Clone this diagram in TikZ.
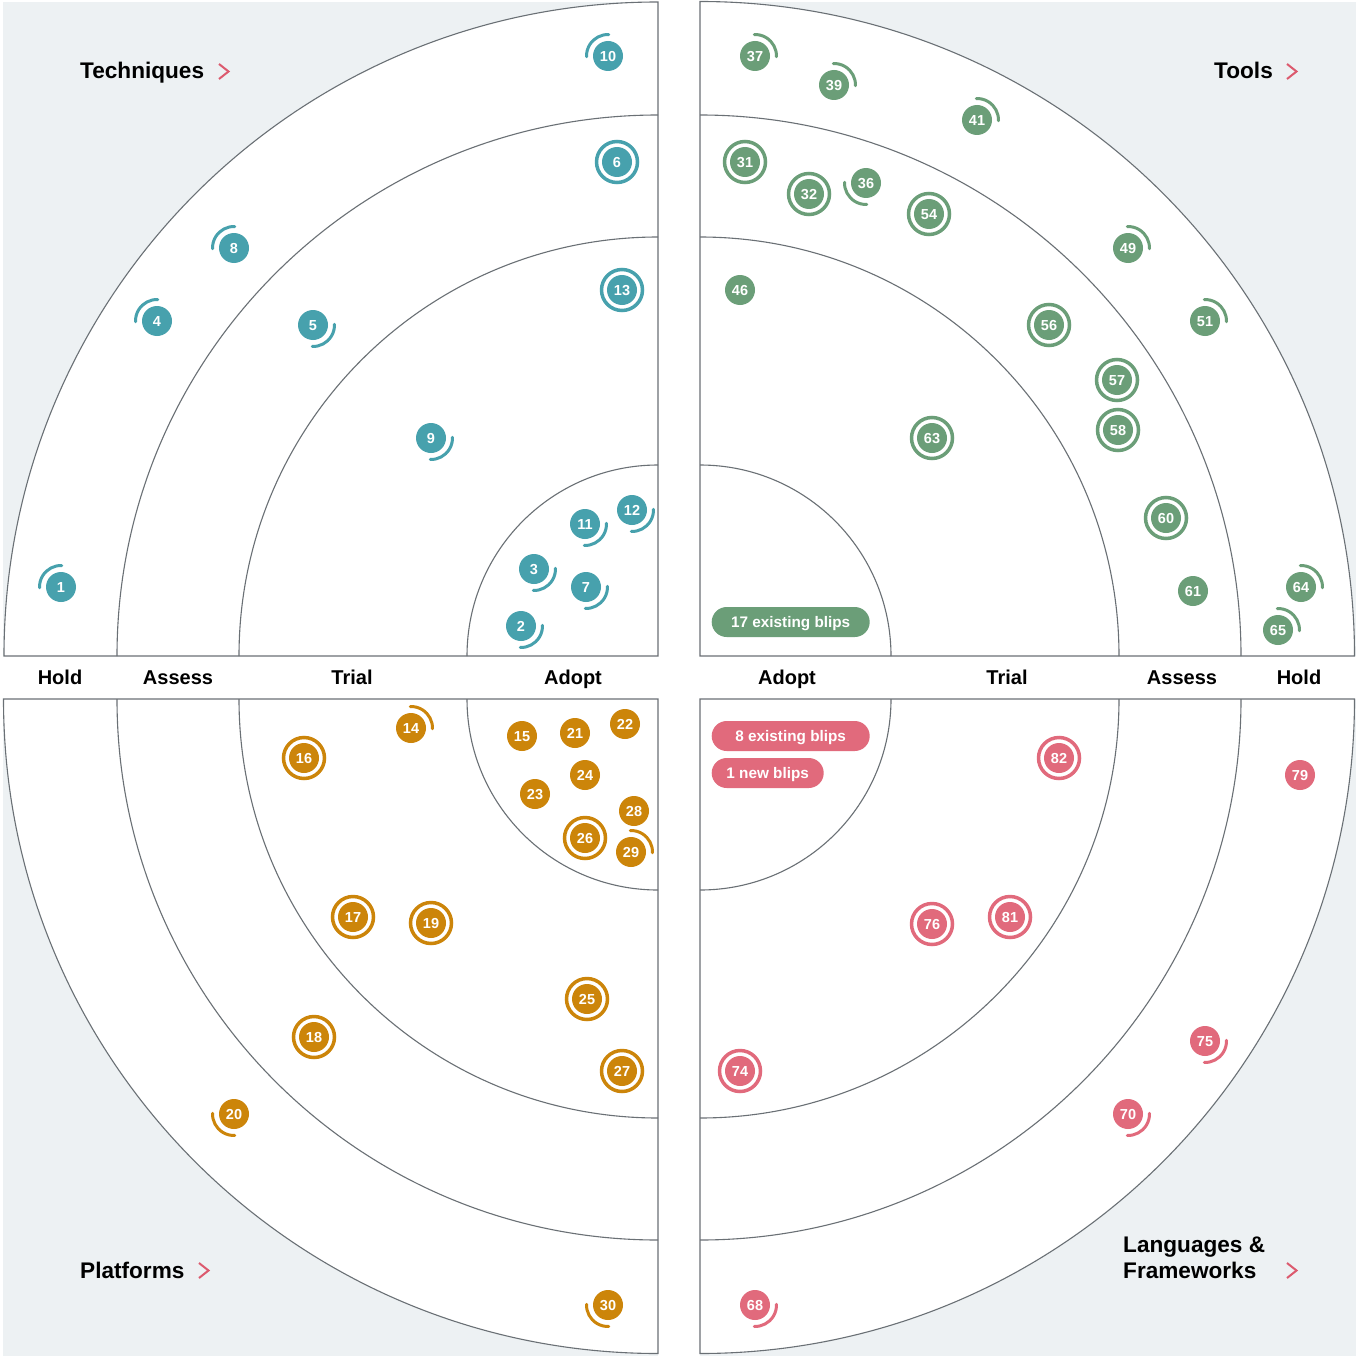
\documentclass[tikz,border=0pt]{standalone}
\usepackage{fontspec}
\setmainfont{Liberation Sans}
\definecolor{cT}{HTML}{47A1AD}
\definecolor{cG}{HTML}{6B9E78}
\definecolor{cO}{HTML}{CC850A}
\definecolor{cP}{HTML}{E16A7C}
\definecolor{bgc}{HTML}{EDF1F3}
\definecolor{lnc}{HTML}{6A7075}
\definecolor{chev}{HTML}{DC5A6E}
\tikzset{
  blip/.style={circle, inner sep=0pt, minimum size=30pt, text=white,
    font=\fontsize{14.5}{14.5}\selectfont\bfseries, text height=10.4pt, text depth=0pt},
  ringst/.style={line width=3.5pt},
  arcst/.style={line width=3pt, line cap=round},
  quad/.style={fill=white, draw=lnc, line width=1.1pt},
  rng/.style={draw=lnc, line width=1.1pt},
  pill/.style={rounded corners=15pt, inner sep=0pt, minimum height=30pt, text=white,
    font=\fontsize{15.3}{15.3}\selectfont\bfseries, text height=10.9pt, text depth=0pt, anchor=west},
  lbl/.style={font=\fontsize{20}{20}\selectfont\bfseries, anchor=base, inner sep=0pt},
  ttl/.style={font=\fontsize{22.6}{22.6}\selectfont\bfseries, anchor=base west, inner sep=0pt},
  chevst/.style={draw=chev, line width=2pt},
}
\newcommand\blipP[4]{\node[blip, fill=#1] (b#4) at (#2,#3) {#4};}
\newcommand\blipR[4]{\draw[ringst, draw=#1] (#2,#3) circle[radius=20.5];\blipP{#1}{#2}{#3}{#4}}
\newcommand\blipA[5]{\draw[arcst, draw=#1] (#2,#3) ++({-(#5)+47}:21.5) arc[start angle={-(#5)+47}, end angle={-(#5)-47}, radius=21.5];\blipP{#1}{#2}{#3}{#4}}
\begin{document}
\begin{tikzpicture}[x=1pt,y=-1pt]
\useasboundingbox (0,0) rectangle (1358,1359);
\fill[white] (0,0) rectangle (1358,1359);
\fill[bgc] (3,2) rectangle (1355.5,1355.5);
\fill[white] (0,656) rectangle (1358,699);
\fill[white] (658,0) rectangle (700,1359);
% Top-left quadrant
\filldraw[quad] (658,656) -- (4,656) arc[start angle=180,end angle=270,radius=654] -- cycle;
\draw[rng] (467,656) arc[start angle=180,end angle=270,radius=191];
\draw[rng] (239,656) arc[start angle=180,end angle=270,radius=419];
\draw[rng] (117,656) arc[start angle=180,end angle=270,radius=541];
% Top-right quadrant
\filldraw[quad] (700,656) -- (1354.5,656) arc[start angle=0,end angle=-90,radius=654.5] -- cycle;
\draw[rng] (891,656) arc[start angle=0,end angle=-90,radius=191];
\draw[rng] (1119,656) arc[start angle=0,end angle=-90,radius=419];
\draw[rng] (1241,656) arc[start angle=0,end angle=-90,radius=541];
% Bottom-left quadrant
\filldraw[quad] (658,699) -- (3.5,699) arc[start angle=180,end angle=90,radius=654.5] -- cycle;
\draw[rng] (467,699) arc[start angle=180,end angle=90,radius=191];
\draw[rng] (239,699) arc[start angle=180,end angle=90,radius=419];
\draw[rng] (117,699) arc[start angle=180,end angle=90,radius=541];
% Bottom-right quadrant
\filldraw[quad] (700,699) -- (1354.5,699) arc[start angle=0,end angle=90,radius=654.5] -- cycle;
\draw[rng] (891,699) arc[start angle=0,end angle=90,radius=191];
\draw[rng] (1119,699) arc[start angle=0,end angle=90,radius=419];
\draw[rng] (1241,699) arc[start angle=0,end angle=90,radius=541];
% ring labels
\node[lbl] (lh1) at (60,684) {Hold};
\node[lbl] (la1) at (178,684) {Assess};
\node[lbl] (lt1) at (352,684) {Trial};
\node[lbl] (ld1) at (573,684) {Adopt};
\node[lbl] (ld2) at (787,684) {Adopt};
\node[lbl] (lt2) at (1007,684) {Trial};
\node[lbl] (la2) at (1182,684) {Assess};
\node[lbl] (lh2) at (1299,684) {Hold};
% titles
\node[ttl] (tq1) at (80,79) {Techniques};
\draw[chevst] (219,64) -- (228.5,71.5) -- (219,79);
\node[ttl] (tq2) at (1214,79) {Tools};
\draw[chevst] (1287,64) -- (1296.5,71.5) -- (1287,79);
\node[ttl] (tq3) at (80,1278) {Platforms};
\draw[chevst] (199,1263) -- (208.5,1270.5) -- (199,1278);
\node[ttl] (tq4a) at (1123,1252) {Languages \&};
\node[ttl] (tq4b) at (1123,1278) {Frameworks};
\draw[chevst] (1287,1263) -- (1296.5,1270.5) -- (1287,1278);
% Techniques blips
\blipA{cT}{608}{56}{10}{135}
\blipR{cT}{617}{162}{6}
\blipA{cT}{234}{248}{8}{135}
\blipA{cT}{157}{321}{4}{135}
\blipA{cT}{313}{325}{5}{-45}
\blipR{cT}{622}{290}{13}
\blipA{cT}{431}{438}{9}{-45}
\blipA{cT}{585}{524}{11}{-45}
\blipA{cT}{632}{510}{12}{-45}
\blipA{cT}{534}{569}{3}{-45}
\blipA{cT}{586}{587}{7}{-45}
\blipA{cT}{521}{626}{2}{-45}
\blipA{cT}{61}{587}{1}{135}
% Tools blips
\blipA{cG}{755}{56}{37}{45}
\blipA{cG}{834}{85}{39}{45}
\blipA{cG}{977}{120}{41}{45}
\blipR{cG}{745}{162}{31}
\blipR{cG}{809}{194}{32}
\blipA{cG}{866}{183}{36}{225}
\blipR{cG}{929}{214}{54}
\blipA{cG}{1128}{248}{49}{45}
\blipP{cG}{740}{290}{46}
\blipA{cG}{1205}{321}{51}{45}
\blipR{cG}{1049}{325}{56}
\blipR{cG}{1117}{380}{57}
\blipR{cG}{1118}{430}{58}
\blipR{cG}{932}{438}{63}
\blipR{cG}{1166}{518}{60}
\blipP{cG}{1193}{591}{61}
\blipA{cG}{1301}{587}{64}{45}
\blipA{cG}{1278}{630}{65}{45}
\node[pill, fill=cG, minimum width=158pt] (p17) at (711.5,622) {17 existing blips};
% Platforms blips
\blipA{cO}{411}{728}{14}{45}
\blipR{cO}{304}{758}{16}
\blipP{cO}{522}{736}{15}
\blipP{cO}{575}{733}{21}
\blipP{cO}{625}{724}{22}
\blipP{cO}{585}{775}{24}
\blipP{cO}{535}{794}{23}
\blipP{cO}{634}{811}{28}
\blipR{cO}{585}{838}{26}
\blipA{cO}{631}{852}{29}{45}
\blipR{cO}{353}{917}{17}
\blipR{cO}{431}{923}{19}
\blipR{cO}{587}{999}{25}
\blipR{cO}{314}{1037}{18}
\blipR{cO}{622}{1071}{27}
\blipA{cO}{234}{1114}{20}{225}
\blipA{cO}{608}{1305}{30}{225}
% Languages blips
\node[pill, fill=cP, minimum width=158pt] (p8) at (711.5,736) {8 existing blips};
\node[pill, fill=cP, minimum width=112pt] (p1) at (711.5,773) {1 new blips};
\blipR{cP}{1059}{758}{82}
\blipP{cP}{1300}{775}{79}
\blipR{cP}{932}{924}{76}
\blipR{cP}{1010}{917}{81}
\blipR{cP}{740}{1071}{74}
\blipA{cP}{1205}{1041}{75}{-45}
\blipA{cP}{1128}{1114}{70}{-45}
\blipA{cP}{755}{1305}{68}{-45}
\end{tikzpicture}
\end{document}
